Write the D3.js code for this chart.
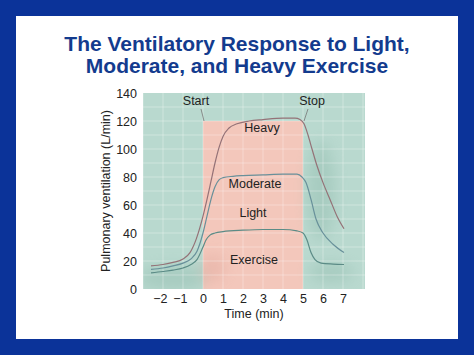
<!DOCTYPE html>
<html><head><meta charset="utf-8">
<script src="https://cdn.jsdelivr.net/npm/d3@7"></script>
<style>html,body{margin:0;padding:0;background:#0b3399;}svg{display:block;}</style>
</head><body>
<script>
const titleLines = ["The Ventilatory Response to Light,", "Moderate, and Heavy Exercise"];
const yTicks = [0, 20, 40, 60, 80, 100, 120, 140];
const xTicks = [-2, -1, 0, 1, 2, 3, 4, 5, 6, 7];
const exercisePeriod = [0, 5];
const exerciseTop = 120;
const heavy = [[-2.6,16.5],[-2,17.5],[-1.5,19],[-1,21.5],[-0.65,26],[-0.33,36],[0,52],[0.2,64],[0.4,77],[0.6,90],[0.8,101],[1.0,109],[1.3,115],[1.7,118],[2.3,120],[3,121],[4,122],[4.6,122],[4.85,121],[5.05,118],[5.25,110],[5.45,100],[5.7,88],[6,76],[6.35,64],[6.7,52],[7.05,43]];
const moderate = [[-2.6,14],[-2,15],[-1.5,16.5],[-1,18.5],[-0.6,21.5],[-0.3,27],[0,40],[0.2,52],[0.4,64],[0.6,73],[0.8,78],[1.0,79.5],[1.5,80.5],[2,81],[3,81.5],[4,82],[4.7,82],[4.95,80],[5.15,76],[5.4,64],[5.65,50],[6,40],[6.5,32],[7.05,26]];
const light = [[-2.6,11.5],[-2,12.5],[-1.5,13.5],[-1,15],[-0.6,17.5],[-0.3,21],[0,30],[0.15,35],[0.35,38.5],[0.6,40],[1,41],[2,42],[3,42.5],[4,42.5],[4.7,41.5],[5,40],[5.2,35],[5.4,26],[5.6,21],[5.9,18.5],[6.5,17.8],[7.05,17.5]];
const curveLabels = [["Heavy", 2.95, 112], ["Moderate", 2.6, 72.5], ["Light", 2.5, 51.5], ["Exercise", 2.55, 18]];

const W = 474, H = 355;
const FONT = "Liberation Sans, Arial, sans-serif";
const svg = d3.select("body").append("svg").attr("width", W).attr("height", H);
const defs = svg.append("defs");
defs.append("filter").attr("id","blur").attr("x","-50%").attr("y","-50%").attr("width","200%").attr("height","200%")
  .append("feGaussianBlur").attr("stdDeviation", 7);

svg.append("rect").attr("width", W).attr("height", H).attr("fill", "#0b3399");
svg.append("rect").attr("x", 16).attr("y", 16).attr("width", 442).attr("height", 323).attr("fill", "#ffffff");

svg.append("g").selectAll("text").data(titleLines).join("text")
  .attr("x", 237).attr("y", (d, i) => 51 + i * 22)
  .attr("text-anchor", "middle")
  .attr("font-family", FONT)
  .attr("font-weight", "bold").attr("font-size", 21)
  .attr("fill", "#133b8e").text(d => d);

const x = d3.scaleLinear().domain([-3, 8.1]).range([143, 365]);
const y = d3.scaleLinear().domain([0, 140]).range([289, 93]);

defs.append("clipPath").attr("id", "plotclip").append("rect")
  .attr("x", x(-3)).attr("y", y(140)).attr("width", x(8.1) - x(-3)).attr("height", y(0) - y(140));

const plot = svg.append("g").attr("clip-path", "url(#plotclip)");
plot.append("rect").attr("x", x(-3)).attr("y", y(140)).attr("width", x(8.1) - x(-3)).attr("height", y(0) - y(140)).attr("fill", "#b9d9cf");
plot.append("rect").attr("x", x(exercisePeriod[0])).attr("y", y(exerciseTop))
  .attr("width", x(exercisePeriod[1]) - x(exercisePeriod[0])).attr("height", y(0) - y(exerciseTop)).attr("fill", "#f3c7bb");

// soft shadows
const shade = plot.append("g").attr("filter", "url(#blur)").attr("opacity", 0.3);
shade.append("ellipse").attr("cx", x(-1.5)).attr("cy", y(8)).attr("rx", 35).attr("ry", 12).attr("fill", "#7fae9f");
shade.append("ellipse").attr("cx", x(5.9)).attr("cy", y(70)).attr("rx", 14).attr("ry", 50).attr("fill", "#7fae9f");
shade.append("ellipse").attr("cx", x(6.4)).attr("cy", y(12)).attr("rx", 22).attr("ry", 10).attr("fill", "#7fae9f");
shade.append("ellipse").attr("cx", x(0.5)).attr("cy", y(15)).attr("rx", 12).attr("ry", 14).attr("fill", "#d89a8e");

// grid
plot.append("g").selectAll("line").data(d3.range(-3, 9, 1)).join("line")
  .attr("x1", d => x(d)).attr("x2", d => x(d)).attr("y1", y(0)).attr("y2", y(140))
  .attr("stroke", "#ffffff").attr("stroke-opacity", 0.4).attr("stroke-width", 0.8);
plot.append("g").selectAll("line").data(d3.range(10, 140, 10)).join("line")
  .attr("x1", x(-3)).attr("x2", x(8.1)).attr("y1", d => y(d)).attr("y2", d => y(d))
  .attr("stroke", "#ffffff").attr("stroke-opacity", 0.4).attr("stroke-width", 0.8);

const line = d3.line().x(d => x(d[0])).y(d => y(d[1])).curve(d3.curveMonotoneX);
const series = [[heavy, "#947277"], [moderate, "#68909a"], [light, "#5b8b86"]];
plot.append("g").selectAll("path").data(series).join("path")
  .attr("d", d => line(d[0])).attr("fill", "none").attr("stroke", d => d[1]).attr("stroke-width", 1.2);

plot.append("g").selectAll("text").data(curveLabels).join("text")
  .attr("x", d => x(d[1])).attr("y", d => y(d[2]))
  .attr("text-anchor", "middle").attr("font-family", FONT)
  .attr("font-size", 12.5).attr("fill", "#222").text(d => d[0]);

// Start / Stop annotations
const ann = svg.append("g").attr("font-family", FONT).attr("font-size", 12.5).attr("fill", "#222");
ann.append("text").attr("x", x(-0.35)).attr("y", 105).attr("text-anchor", "middle").text("Start");
ann.append("text").attr("x", x(5.45)).attr("y", 105).attr("text-anchor", "middle").text("Stop");
svg.append("line").attr("x1", x(-0.1)).attr("y1", 109).attr("x2", x(0.05)).attr("y2", y(120)).attr("stroke", "#777").attr("stroke-width", 0.8);
svg.append("line").attr("x1", x(5.25)).attr("y1", 109).attr("x2", x(5.05)).attr("y2", y(120)).attr("stroke", "#777").attr("stroke-width", 0.8);

// axes
const yAxis = d3.axisLeft(y).tickValues(yTicks).tickSize(0).tickPadding(6);
const gy = svg.append("g").attr("transform", `translate(${x(-3)},0)`).call(yAxis);
const xAxis = d3.axisBottom(x).tickValues(xTicks).tickSize(0).tickPadding(5).tickFormat(d => d < 0 ? "\u2212" + Math.abs(d) : d);
const gx = svg.append("g").attr("transform", `translate(0,${y(0)})`).call(xAxis);
[gx, gy].forEach(g => {
  g.select(".domain").remove();
  g.selectAll("text").attr("font-family", FONT).attr("font-size", 12.5).attr("fill", "#222");
});
gx.selectAll("text").filter(d => d < 0).attr("dx", "-0.25em");

svg.append("text").attr("x", (x(-3) + x(8.1)) / 2).attr("y", 318).attr("text-anchor", "middle")
  .attr("font-family", FONT).attr("font-size", 12.5).attr("fill", "#222").text("Time (min)");
svg.append("text").attr("transform", `translate(110,${(y(0) + y(140)) / 2}) rotate(-90)`).attr("text-anchor", "middle")
  .attr("font-family", FONT).attr("font-size", 12.5).attr("fill", "#222").text("Pulmonary ventilation (L/min)");
</script>
</body></html>
